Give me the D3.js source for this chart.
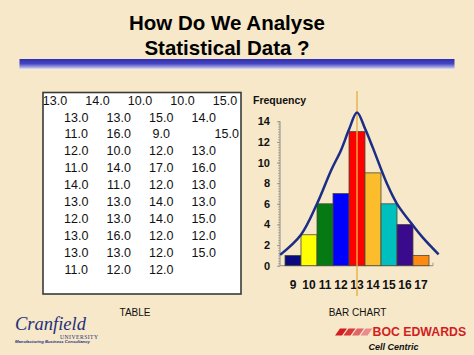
<!DOCTYPE html>
<html>
<head>
<meta charset="utf-8">
<script src="https://cdn.jsdelivr.net/npm/d3@7"></script>
<style>
  html, body { margin: 0; padding: 0; background: #f6e8c8; }
  svg { display: block; }
</style>
</head>
<body>
<svg id="chart" width="474" height="355"></svg>
<script>
// ---------- data ----------
const titleLines = ["How Do We Analyse", "Statistical Data ?"];
const tableRows = [
  ["13.0", "14.0", "10.0", "10.0", "15.0"],
  ["13.0", "13.0", "15.0", "14.0"],
  ["11.0", "16.0", "9.0", "15.0"],
  ["12.0", "10.0", "12.0", "13.0"],
  ["11.0", "14.0", "17.0", "16.0"],
  ["14.0", "11.0", "12.0", "13.0"],
  ["13.0", "13.0", "14.0", "13.0"],
  ["12.0", "13.0", "14.0", "15.0"],
  ["13.0", "16.0", "12.0", "12.0"],
  ["13.0", "13.0", "12.0", "15.0"],
  ["11.0", "12.0", "12.0"]
];
const categories = [9, 10, 11, 12, 13, 14, 15, 16, 17];
const frequencies = [1, 3, 6, 7, 13, 9, 6, 4, 1];
const barColors = ["#0a0a80", "#ffff00", "#067a12", "#0000ff", "#ff0000", "#fbbd2c", "#00bfbf", "#3a0a8c", "#ff8a12"];
const yTicks = [0, 2, 4, 6, 8, 10, 12, 14];
// fitted curve, points (x value, frequency)
const curveX = [8.2, 9.5, 10.5, 11.4, 12.0, 12.5, 13.0, 13.5, 14.0, 14.86, 15.5, 16.5, 17.1, 18.1];
const curveY = [1.05, 3.0, 6.0, 9.3, 11.2, 13.2, 14.85, 13.3, 11.4, 8.0, 6.0, 3.9, 2.75, 1.1];
const meanValue = 13;
const labels = { table: "TABLE", chart: "BAR CHART", yTitle: "Frequency" };

// ---------- drawing ----------
const svg = d3.select("#chart");
const SANS = "'Liberation Sans', Arial, Helvetica, sans-serif";
const SERIF = "'Liberation Serif', 'Times New Roman', serif";

// background
svg.append("rect").attr("width", 474).attr("height", 355).attr("fill", "#f6e8c8");

// title
svg.append("g").selectAll("text").data(titleLines).join("text")
  .attr("x", 227).attr("y", (d, i) => 29.5 + i * 25)
  .attr("text-anchor", "middle")
  .attr("font-family", SANS).attr("font-weight", "bold").attr("font-size", 20.5)
  .attr("fill", "#000").text(d => d);

// blue divider bar with gradient
const defs = svg.append("defs");
const grad = defs.append("linearGradient").attr("id", "bluebar").attr("x1", 0).attr("y1", 0).attr("x2", 0).attr("y2", 1);
[["0%", "#2e2eae"], ["45%", "#4646c2"], ["75%", "#9a9ae0"], ["100%", "#f0eef4"]].forEach(s =>
  grad.append("stop").attr("offset", s[0]).attr("stop-color", s[1]));
svg.append("rect").attr("x", 19.5).attr("y", 59).attr("width", 435).attr("height", 10.5).attr("fill", "url(#bluebar)");

// ---------- table ----------
const tbl = { x: 43, y: 92.5, w: 198, h: 201.5 };
svg.append("rect").attr("x", tbl.x).attr("y", tbl.y).attr("width", tbl.w).attr("height", tbl.h)
  .attr("fill", "#ffffff").attr("stroke", "#3a3a3a").attr("stroke-width", 1.6);

const colScale = d3.scaleLinear().domain([0, 1]).range([55, 97.5]);   // column slot -> text centre
const rowScale = d3.scaleLinear().domain([0, 1]).range([104.6, 121.5]); // row -> baseline
function slotFor(r, c) {
  if (r === 0) return c;
  if (r === 2 && c === 3) return 4.04;
  return c + 0.5;
}
const cells = [];
tableRows.forEach((row, r) => row.forEach((v, c) => cells.push({ r, c, v })));
svg.append("g").selectAll("text").data(cells).join("text")
  .attr("x", d => colScale(slotFor(d.r, d.c)))
  .attr("y", d => rowScale(d.r))
  .attr("text-anchor", "middle")
  .attr("font-family", SANS).attr("font-size", 12.5).attr("fill", "#111")
  .text(d => d.v);

// ---------- bar chart ----------
const x = d3.scaleBand().domain(categories).range([285, 429]).padding(0);
const xl = d3.scaleLinear().domain([8.5, 17.5]).range([285, 429]);
const y = d3.scaleLinear().domain([0, 14]).range([265.7, 121.3]);

// y title
svg.append("text").attr("x", 253).attr("y", 103.5)
  .attr("font-family", SANS).attr("font-weight", "bold").attr("font-size", 10.5)
  .attr("fill", "#111").text(labels.yTitle);

// minor ticks
const minor = svg.append("g").attr("transform", "translate(280,0)")
  .call(d3.axisLeft(y).tickValues(d3.range(0, 14.01, 0.25)).tickSize(2).tickFormat(""));
minor.select(".domain").remove();
minor.selectAll("line").attr("stroke", "#8a8a8a").attr("stroke-width", 0.6);

// major axis labels
const yAx = svg.append("g").attr("transform", "translate(280,0)")
  .call(d3.axisLeft(y).tickValues(yTicks).tickSize(3).tickPadding(7));
yAx.select(".domain").remove();
yAx.selectAll("line").attr("stroke", "#8a8a8a").attr("stroke-width", 0.8);
yAx.selectAll("text").attr("font-family", SANS).attr("font-weight", "bold").attr("font-size", 11).attr("fill", "#111");

// axis lines
svg.append("line").attr("x1", 280).attr("x2", 280).attr("y1", y(0)).attr("y2", y(14))
  .attr("stroke", "#8a8a8a").attr("stroke-width", 1);
svg.append("line").attr("x1", 280).attr("x2", xl(17.5) + 4).attr("y1", y(0)).attr("y2", y(0))
  .attr("stroke", "#8a8a8a").attr("stroke-width", 1);
svg.append("line").attr("x1", xl(17.5) + 4).attr("x2", xl(17.5) + 4).attr("y1", y(0)).attr("y2", y(0) - 3)
  .attr("stroke", "#8a8a8a").attr("stroke-width", 0.8);

// bars
svg.append("g").selectAll("rect").data(categories).join("rect")
  .attr("x", d => x(d)).attr("width", x.bandwidth())
  .attr("y", (d, i) => y(frequencies[i]))
  .attr("height", (d, i) => y(0) - y(frequencies[i]))
  .attr("fill", (d, i) => barColors[i])
  .attr("stroke", "#4a4a3a").attr("stroke-width", 0.8);

// x labels
const xAx = svg.append("g").attr("transform", `translate(0,${y(0)})`)
  .call(d3.axisBottom(x).tickSize(0).tickPadding(15));
xAx.select(".domain").remove();
xAx.selectAll("text").attr("font-family", SANS).attr("font-weight", "bold").attr("font-size", 12).attr("fill", "#111");

// mean line
svg.append("line").attr("x1", xl(meanValue)).attr("x2", xl(meanValue)).attr("y1", 91).attr("y2", 296)
  .attr("stroke", "#e8b048").attr("stroke-width", 1.4);

// fitted curve
const pts = curveX.map((v, i) => [v, curveY[i]]);
svg.append("path").datum(pts)
  .attr("d", d3.line().x(d => xl(d[0])).y(d => y(d[1])).curve(d3.curveCatmullRom.alpha(0.5)))
  .attr("fill", "none").attr("stroke", "#1c2d88").attr("stroke-width", 2.5);

// captions
svg.append("text").attr("x", 135).attr("y", 316).attr("text-anchor", "middle")
  .attr("font-family", SANS).attr("font-size", 10).attr("fill", "#111").text(labels.table);
svg.append("text").attr("x", 357.5).attr("y", 316).attr("text-anchor", "middle")
  .attr("font-family", SANS).attr("font-size", 10).attr("fill", "#111").text(labels.chart);

// Cranfield logo
svg.append("text").attr("x", 15).attr("y", 330)
  .attr("font-family", SERIF).attr("font-style", "italic")
  .attr("font-size", 18.5).attr("fill", "#25307a").text("Cranfield");
svg.append("text").attr("x", 60).attr("y", 339)
  .attr("font-family", SERIF)
  .attr("font-size", 5.6).attr("letter-spacing", 0.5).attr("fill", "#25307a").text("UNIVERSITY");
svg.append("text").attr("x", 15).attr("y", 343.4)
  .attr("font-family", SANS).attr("font-style", "italic").attr("font-weight", "bold")
  .attr("font-size", 4.2).attr("fill", "#25307a").text("Manufacturing Business Consultancy");

// BOC Edwards logo
const slashColors = ["#d21e22", "#d8383a", "#e06468", "#e88c8e"];
svg.append("g").selectAll("path").data(slashColors).join("path")
  .attr("d", (d, i) => {
    const x0 = 335 + i * 8.5;
    return `M${x0},335.5 L${x0 + 7},335.5 L${x0 + 12},328.5 L${x0 + 5},328.5 Z`;
  })
  .attr("fill", d => d);
svg.append("text").attr("x", 372.5).attr("y", 336)
  .attr("font-family", SANS).attr("font-weight", "bold").attr("font-size", 12.3)
  .attr("fill", "#d21e22").text("BOC EDWARDS");
svg.append("text").attr("x", 368.5).attr("y", 349.5)
  .attr("font-family", SANS).attr("font-weight", "bold").attr("font-style", "italic")
  .attr("font-size", 9).attr("fill", "#111").text("Cell Centric");
</script>
</body>
</html>
